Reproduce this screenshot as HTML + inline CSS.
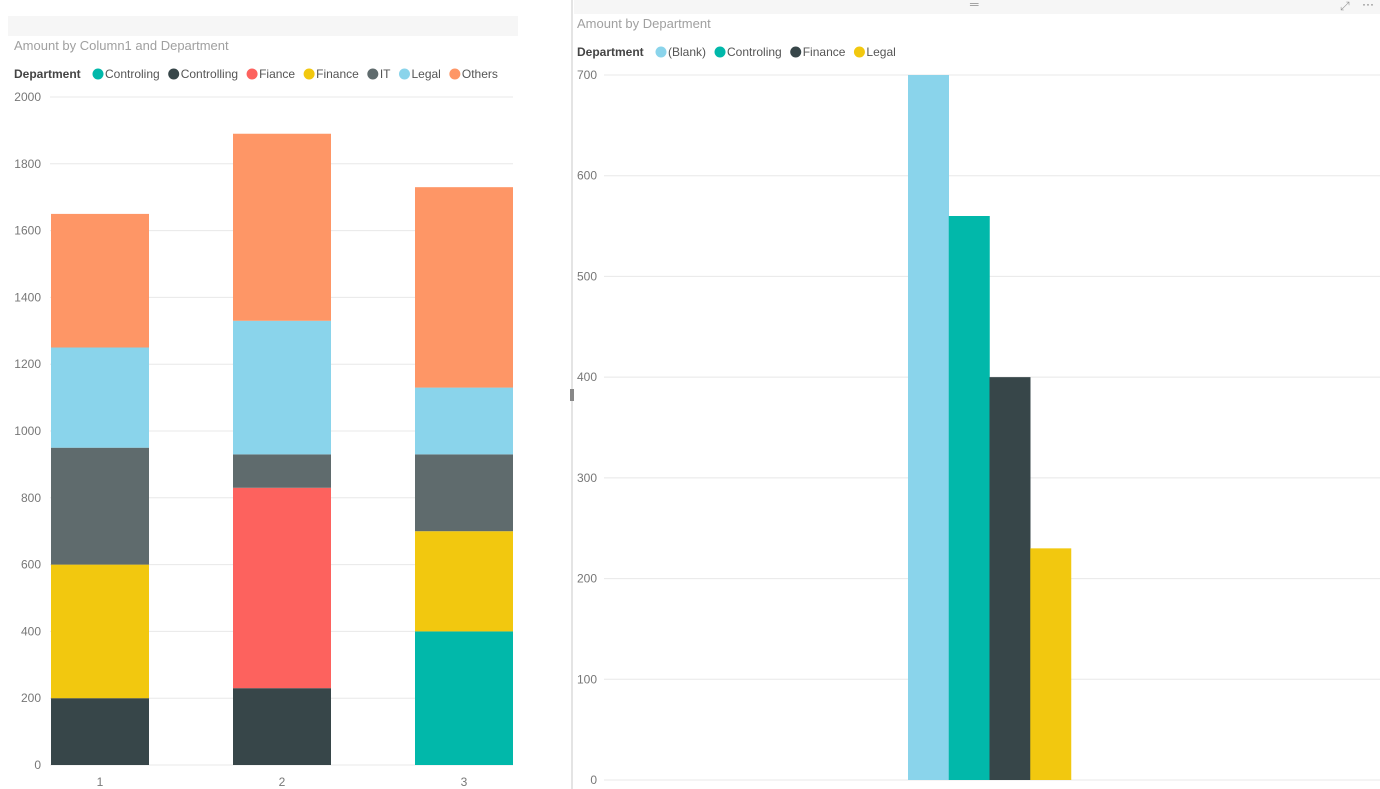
<!DOCTYPE html>
<html><head><meta charset="utf-8"><style>
body{margin:0;width:1380px;height:789px;background:#fff;font-family:"Liberation Sans",sans-serif;overflow:hidden;position:relative}
svg{position:absolute;left:0;top:0}
text{font-family:"Liberation Sans",sans-serif}
</style></head><body>
<svg id="s" width="1380" height="789">
<rect x="8" y="16" width="510" height="20" fill="#f6f6f6"/>
<rect x="574" y="0" width="806" height="14" fill="#f6f6f6"/>
<line x1="572" y1="0" x2="572" y2="789" stroke="#c8c8c8"/>
<rect x="570" y="389" width="4" height="12" fill="#888"/>
<text x="14" y="50" font-size="13" fill="#a0a0a0">Amount by Column1 and Department</text>
<text x="577" y="28" font-size="13" fill="#a0a0a0">Amount by Department</text>
<text x="970" y="8" font-size="12" fill="#999">═</text>
<text x="1340" y="10" font-size="12" fill="#999">⤢</text>
<text x="1362" y="8" font-size="12" fill="#666">···</text>
<g id="L"></g><g id="R"></g>
</svg>
<script>
const NS="http://www.w3.org/2000/svg";
const leftColors={"Controling":"#01B8AA","Controlling":"#374649","Fiance":"#FD625E","Finance":"#F2C80F","IT":"#5F6B6D","Legal":"#8AD4EB","Others":"#FE9666"};
const rightColors={"(Blank)":"#8AD4EB","Controling":"#01B8AA","Finance":"#374649","Legal":"#F2C80F"};
// left chart data
const leftCategories=["1","2","3"];
const leftSeries=["Controling","Controlling","Fiance","Finance","IT","Legal","Others"];
const valControling=[0,0,400];
const valControlling=[200,230,0];
const valFiance=[0,600,0];
const valFinance=[400,0,300];
const valIT=[350,100,230];
const valLegal=[300,400,200];
const valOthers=[400,560,600];
const leftTicks=[0,200,400,600,800,1000,1200,1400,1600,1800,2000];
// right chart data
const rightSeries=["(Blank)","Controling","Finance","Legal"];
const rightValues=[700,560,400,230];
const rightTicks=[0,100,200,300,400,500,600,700];

function el(tag,attrs,parent,txt){const e=document.createElementNS(NS,tag);for(const k in attrs)e.setAttribute(k,attrs[k]);if(txt!==undefined)e.textContent=txt;parent.appendChild(e);return e;}
function legend(parent,x,y,items,colors){
  const t=el("text",{x:x,y:y+4,"font-size":12,"font-weight":"bold",fill:"#444"},parent,"Department");
  
  
  let cx=x+84;
  items.forEach(n=>{
    const g=el("g",{},parent);
    
    
    el("circle",{cx:cx,cy:y,r:5.5,fill:colors[n]},g);
    const tt=el("text",{x:cx+7,y:y+4,"font-size":12,fill:"#555"},g,n);
    cx+=7+tt.getComputedTextLength()+14;
  });
}
const L=document.getElementById("L"),R=document.getElementById("R");
legend(L,14,74,leftSeries,leftColors);
legend(R,577,52,rightSeries,rightColors);
// left axes
const ly=v=>765-v*(668/2000);
const lx=i=>51+i*182;
leftTicks.forEach(t=>{
  const l=el("line",{x1:50,x2:513,y1:ly(t),y2:ly(t),stroke:"#e8e8e8"},L);
  
  
  const tx=el("text",{x:41,y:ly(t)+4,"font-size":12,fill:"#777","text-anchor":"end"},L,t);
  
  
});
const leftVals={Controling:valControling,Controlling:valControlling,Fiance:valFiance,Finance:valFinance,IT:valIT,Legal:valLegal,Others:valOthers};
leftCategories.forEach((c,i)=>{
  let base=0;
  leftSeries.forEach(s=>{
    const v=leftVals[s][i];
    if(v>0){
      const r=el("rect",{x:lx(i),y:ly(base+v),width:98,height:ly(base)-ly(base+v),fill:leftColors[s]},L);
      
      
    }
    base+=v;
  });
  const tx=el("text",{x:lx(i)+49,y:786,"font-size":12,fill:"#777","text-anchor":"middle"},L,c);
  
  
});
// right axes
const ry=v=>780-v*(705/700);
rightTicks.forEach(t=>{
  const l=el("line",{x1:604,x2:1380,y1:ry(t),y2:ry(t),stroke:"#e8e8e8"},R);
  
  
  const tx=el("text",{x:597,y:ry(t)+4,"font-size":12,fill:"#777","text-anchor":"end"},R,t);
  
  
});
rightSeries.forEach((s,i)=>{
  const v=rightValues[i];
  const r=el("rect",{x:908+i*40.75,y:ry(v),width:41,height:ry(0)-ry(v),fill:rightColors[s]},R);
  
  
});
</script>
</body></html>
